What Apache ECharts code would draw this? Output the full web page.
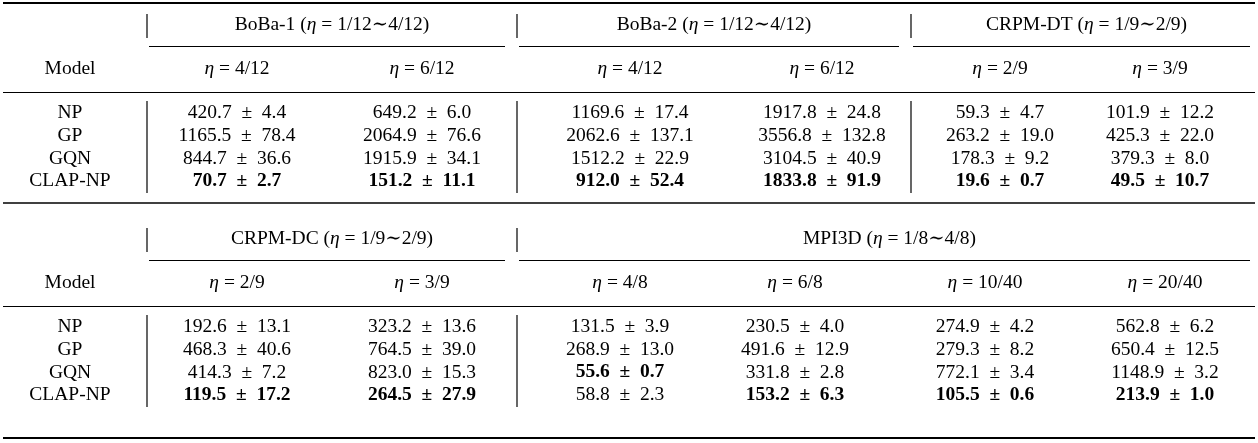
<!DOCTYPE html><html><head><meta charset="utf-8"><script src="https://cdn.jsdelivr.net/npm/echarts@6/dist/echarts.min.js"></script>
<style>html,body{margin:0;background:#fff}#c{width:1258px;height:443px}</style></head><body><div id="c"></div><script>
const models=["NP","GP","GQN","CLAP-NP"];
const groups1=[["BoBa-1","1/12∼4/12"],["BoBa-2","1/12∼4/12"],["CRPM-DT","1/9∼2/9"]];
const etas1=["4/12","6/12","4/12","6/12","2/9","3/9"];
const vals1=[
["420.7 ± 4.4","649.2 ± 6.0","1169.6 ± 17.4","1917.8 ± 24.8","59.3 ± 4.7","101.9 ± 12.2"],
["1165.5 ± 78.4","2064.9 ± 76.6","2062.6 ± 137.1","3556.8 ± 132.8","263.2 ± 19.0","425.3 ± 22.0"],
["844.7 ± 36.6","1915.9 ± 34.1","1512.2 ± 22.9","3104.5 ± 40.9","178.3 ± 9.2","379.3 ± 8.0"],
["70.7 ± 2.7","151.2 ± 11.1","912.0 ± 52.4","1833.8 ± 91.9","19.6 ± 0.7","49.5 ± 10.7"]];
const bold1=[[0,0,0,0,0,0],[0,0,0,0,0,0],[0,0,0,0,0,0],[1,1,1,1,1,1]];
const groups2=[["CRPM-DC","1/9∼2/9"],["MPI3D","1/8∼4/8"]];
const etas2=["2/9","3/9","4/8","6/8","10/40","20/40"];
const vals2=[
["192.6 ± 13.1","323.2 ± 13.6","131.5 ± 3.9","230.5 ± 4.0","274.9 ± 4.2","562.8 ± 6.2"],
["468.3 ± 40.6","764.5 ± 39.0","268.9 ± 13.0","491.6 ± 12.9","279.3 ± 8.2","650.4 ± 12.5"],
["414.3 ± 7.2","823.0 ± 15.3","55.6 ± 0.7","331.8 ± 2.8","772.1 ± 3.4","1148.9 ± 3.2"],
["119.5 ± 17.2","264.5 ± 27.9","58.8 ± 2.3","153.2 ± 6.3","105.5 ± 0.6","213.9 ± 1.0"]];
const bold2=[[0,0,0,0,0,0],[0,0,0,0,0,0],[0,0,1,0,0,0],[1,1,0,1,1,1]];

const F='"Liberation Serif", "DejaVu Serif", serif', FS=19.5;
const els=[];
function fmt(s){return s.replace(' ± ','  ±  ');}
function txt(x,y,s,bold){els.push({type:'text',x:x,y:y,style:{text:s,x:0,y:0,align:'center',verticalAlign:'middle',font:(bold?'bold ':'')+FS+'px '+F,fill:'#000'}});}
const rich={i:{fontStyle:'italic',fontFamily:F,fontSize:FS,fill:'#000'},n:{fontFamily:F,fontSize:FS,fill:'#000'}};
function eta(x,y,v){els.push({type:'text',x:x,y:y,style:{text:'{i|η} {n|= '+v+'}',align:'center',verticalAlign:'middle',font:FS+'px '+F,rich:rich}});}
function grp(x,y,g){els.push({type:'text',x:x,y:y,style:{text:'{n|'+g[0]+' (}{i|η}{n| = '+g[1]+')}',align:'center',verticalAlign:'middle',font:FS+'px '+F,rich:rich}});}
function line(x1,y1,x2,y2,w){els.push({type:'line',shape:{x1:x1,y1:y1,x2:x2,y2:y2},style:{stroke:'#000',lineWidth:w||1}});}

function block(top,groups,gspans,etas,vals,bold,cols,bars){
  groups.forEach((g,i)=>grp((gspans[i][0]+gspans[i][1])/2,top+22,g));
  gspans.forEach(s=>line(s[0]+2,top+43.5,s[1]-12,top+43.5,1.2));
  bars.forEach(b=>line(b,top+11,b,top+35,1.2));
  txt(70,top+66,'Model');
  etas.forEach((e,i)=>eta(cols[i],top+66,e));
  line(3,top+89.5,1255,top+89.5,1.2);
  const r0=top+110, dr=22.7;
  vals.forEach((row,r)=>{txt(70,r0+r*dr,models[r]);row.forEach((v,c)=>txt(cols[c],r0+r*dr,fmt(v),bold[r][c]));});
  bars.forEach(b=>line(b,top+98,b,top+190,1.2));
}
line(3,3,1255,3,1.8);
block(3,groups1,[[147,517],[517,911],[911,1262]],etas1,vals1,bold1,[237,422,630,822,1000,1160],[147,517,911]);
line(3,203,1255,203,1.4);
block(217,groups2,[[147,517],[517,1262]],etas2,vals2,bold2,[237,422,620,795,985,1165],[147,517]);
line(3,438,1255,438,1.8);

const ch=echarts.init(document.getElementById('c'));
ch.setOption({animation:false,graphic:{elements:els}});
</script></body></html>
